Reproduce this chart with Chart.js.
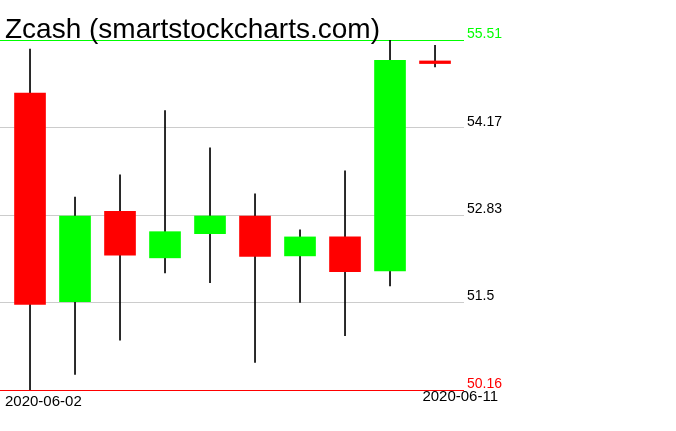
<!DOCTYPE html>
<html>
<head>
<meta charset="utf-8">
<script src="https://cdn.jsdelivr.net/npm/chart.js@4.4.1/dist/chart.umd.min.js"></script>
<style>
    body { margin: 0; background: #ffffff; }
    #chart-area { display: block; }
</style>
</head>
<body>
<canvas id="chart-area" width="676" height="431"></canvas>
<script>
var chartTitle = "Zcash (smartstockcharts.com)";
var arrDate = ["2020-06-02", "2020-06-03", "2020-06-04", "2020-06-05", "2020-06-06",
    "2020-06-07", "2020-06-08", "2020-06-09", "2020-06-10", "2020-06-11"];
var arrOpen = [54.70, 51.51, 52.89, 52.18, 52.55, 52.82, 52.21, 52.50, 51.98, 55.19];
var arrHigh = [55.37, 53.11, 53.45, 54.43, 53.86, 53.16, 52.61, 53.51, 55.51, 55.43];
var arrLow = [50.16, 50.40, 50.92, 51.95, 51.80, 50.58, 51.50, 50.99, 51.75, 55.10];
var arrClose = [51.47, 52.82, 52.22, 52.58, 52.82, 52.20, 52.50, 51.97, 55.20, 55.15];
var arrTick = [50.16, 51.5, 52.83, 54.17, 55.51];

var yMin = arrTick[0];
var yMax = arrTick[arrTick.length - 1];
var fontName = "'Liberation Sans', Arial, sans-serif";

function candleColor(i) {
    return arrClose[i] >= arrOpen[i] ? "#00ff00" : "#ff0000";
}

function levelColor(v, other) {
    if (v === yMax) {
        return "#00ff00";
    }
    if (v === yMin) {
        return "#ff0000";
    }
    return other;
}

var arrBody = [];
var arrWick = [];
var arrColor = [];
for (var i = 0; i < arrDate.length; i++) {
    arrBody.push({x: i, y: [arrOpen[i], arrClose[i]]});
    arrWick.push({x: i, y: [arrLow[i], arrHigh[i]]});
    arrColor.push(candleColor(i));
}

// title and the two date labels are plain text on the canvas
var textPlugin = {
    id: "textPlugin",
    afterDraw: function (chart) {
        var ctx = chart.ctx;
        var area = chart.chartArea;
        ctx.save();
        ctx.fillStyle = "#000000";
        ctx.textBaseline = "alphabetic";
        ctx.font = "28px " + fontName;
        ctx.textAlign = "left";
        ctx.fillText(chartTitle, 5, 38);
        ctx.font = "15px " + fontName;
        ctx.fillText(arrDate[0], area.left + 5, area.bottom + 16);
        ctx.textAlign = "right";
        ctx.fillText(arrDate[arrDate.length - 1], area.right + 34, area.bottom + 11);
        ctx.restore();
    }
};

function renderCandles() {
    var config = {
        type: "bar",
        data: {
            datasets: [{
                    data: arrBody,
                    backgroundColor: arrColor,
                    borderWidth: 0,
                    barThickness: 31,
                    grouped: false,
                    order: 1
                }, {
                    data: arrWick,
                    backgroundColor: "#000000",
                    borderWidth: 0,
                    barThickness: 1,
                    grouped: false,
                    order: 2
                }]
        },
        options: {
            responsive: false,
            animation: false,
            layout: {
                padding: {top: 40, bottom: 41, left: 0, right: 0}
            },
            plugins: {
                legend: {display: false},
                tooltip: {enabled: false},
                title: {display: false}
            },
            scales: {
                x: {
                    type: "linear",
                    display: false,
                    offset: false,
                    grid: {offset: false},
                    min: -0.667,
                    max: 9.644
                },
                y: {
                    position: "right",
                    min: yMin,
                    max: yMax,
                    afterBuildTicks: function (scale) {
                        scale.ticks = arrTick.map(function (v) {
                            return {value: v};
                        });
                    },
                    afterFit: function (scale) {
                        scale.width = 212;
                    },
                    border: {display: false},
                    grid: {
                        drawTicks: false,
                        lineWidth: 1,
                        color: function (c) {
                            return levelColor(c.tick.value, "#cccccc");
                        }
                    },
                    ticks: {
                        padding: 3,
                        labelOffset: -6,
                        font: {family: fontName, size: 14},
                        color: function (c) {
                            return levelColor(c.tick.value, "#000000");
                        },
                        callback: function (v) {
                            return String(v);
                        }
                    }
                }
            }
        },
        plugins: [textPlugin]
    };
    var ctxChart = document.getElementById("chart-area").getContext("2d");
    var myChart = new Chart(ctxChart, config);
}

renderCandles();
</script>
</body>
</html>
